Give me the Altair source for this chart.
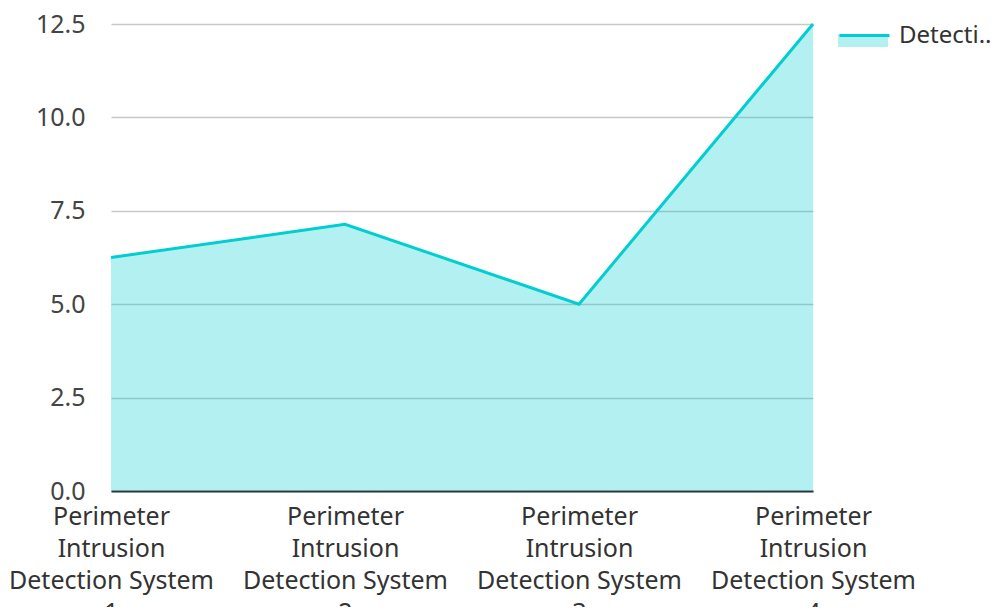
import altair as alt
import pandas as pd

categories = [
    "Perimeter Intrusion Detection System 1",
    "Perimeter Intrusion Detection System 2",
    "Perimeter Intrusion Detection System 3",
    "Perimeter Intrusion Detection System 4",
]
values = [6.25, 7.14, 5.0, 12.5]
series_name = "Detection Rate"
y_ticks = [0, 2.5, 5, 7.5, 10, 12.5]

df = pd.DataFrame({"system": categories, "value": values, "series": [series_name] * len(categories)})

COLOR = "#00CED1"
FONT = "Noto Sans"
FS = 25
LFS = 24

x_enc = alt.X(
    "system:N",
    sort=categories,
    scale=alt.Scale(type="point", padding=0),
    axis=alt.Axis(
        title=None,
        labelAngle=0,
        labelExpr="[slice(datum.label,0,9), slice(datum.label,10,19), slice(datum.label,20,36), slice(datum.label,37)]",
        labelFontSize=FS,
        labelLineHeight=32,
        labelPadding=13,
        labelColor="#333333",
        labelLimit=0,
        domainColor="#333333",
        domainWidth=2,
        ticks=False,
        grid=False,
        labelFont=FONT,
    ),
)
y_enc = alt.Y(
    "value:Q",
    scale=alt.Scale(domain=[0, 12.5], nice=False),
    axis=alt.Axis(
        title=None,
        values=y_ticks,
        format=".1f",
        domain=False,
        ticks=False,
        labelPadding=26,
        labelFontSize=FS,
        labelColor="#444444",
        labelFont=FONT,
        gridColor="#c8c8c8",
        gridWidth=1.5,
    ),
)

area = alt.Chart(df).mark_area(opacity=0.3).encode(
    x=x_enc,
    y=y_enc,
    fill=alt.Fill(
        "series:N",
        scale=alt.Scale(range=[COLOR]),
        legend=alt.Legend(
            title=None,
            orient="none",
            legendX=727,
            legendY=-15,
            padding=0,
            symbolType="M-1,0 L1,0 L1,0.52 L-1,0.52 Z",
            symbolSize=2500,
            symbolOpacity=0.3,
            symbolStrokeWidth=0,
            labelOpacity=0,
            labelFontSize=LFS,
            labelOffset=8,
            labelLimit=100,
        ),
    ),
)

line = alt.Chart(df).mark_line(strokeWidth=3).encode(
    x=x_enc,
    y=y_enc,
    stroke=alt.Stroke(
        "series:N",
        scale=alt.Scale(range=[COLOR]),
        legend=alt.Legend(
            title=None,
            orient="none",
            legendX=727,
            legendY=-15,
            padding=0,
            symbolType="stroke",
            symbolSize=2500,
            symbolStrokeWidth=3,
            labelFontSize=LFS,
            labelOffset=8,
            labelLimit=100,
            labelColor="#333333",
            labelFont=FONT,
        ),
    ),
)

chart = (
    alt.layer(area, line)
    .resolve_scale(fill="independent", stroke="independent")
    .properties(
        width=702,
        height=467,
        autosize=alt.AutoSizeParams(type="none"),
        padding={"left": 103, "top": 16, "right": 179, "bottom": 116},
    )
    .configure(font=FONT)
    .configure_view(stroke=None)
)

chart.save("out.html", embed_options={"renderer": "svg", "actions": False})
